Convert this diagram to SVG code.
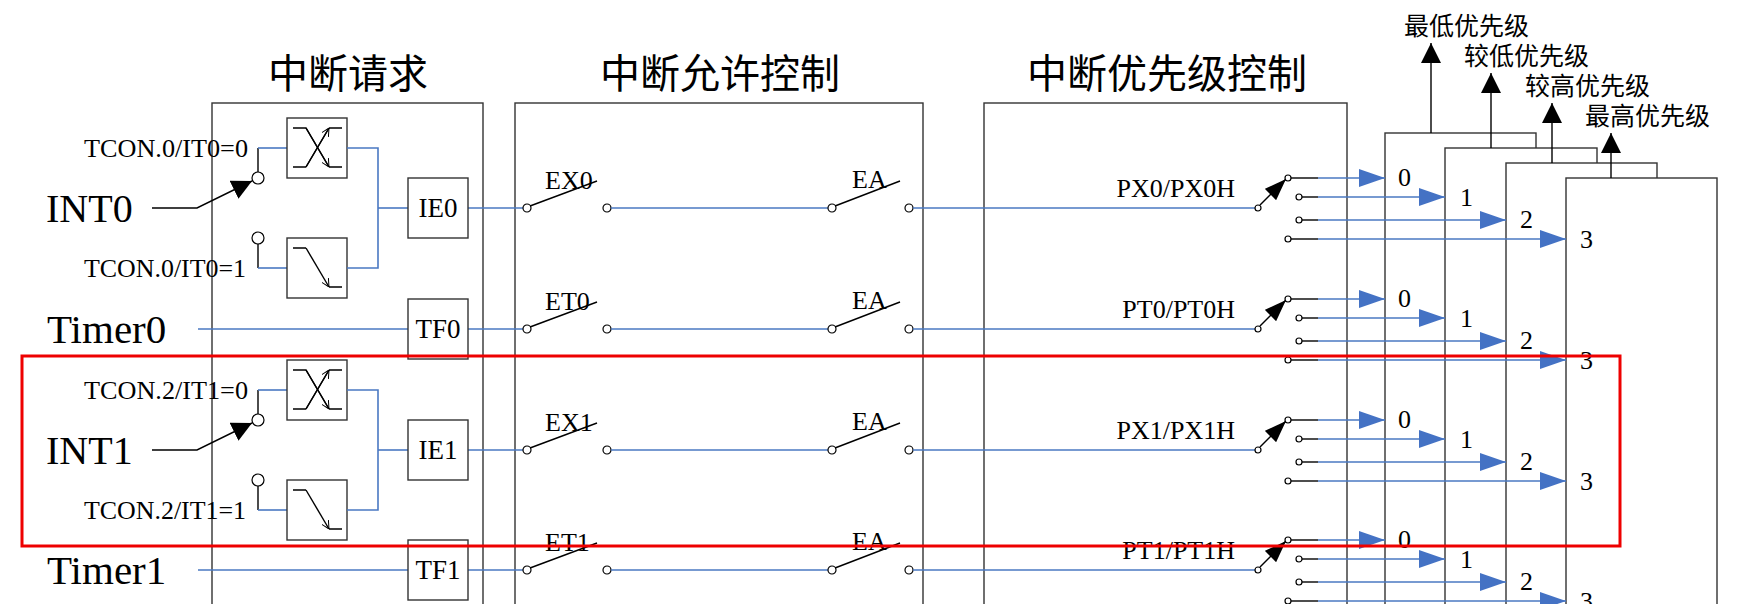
<svg xmlns="http://www.w3.org/2000/svg" xmlns:xlink="http://www.w3.org/1999/xlink" width="1756" height="604" viewBox="0 0 1756 604">
<style>
.t{font-family:"Liberation Serif","Times New Roman",serif;fill:#000}
.c{font-family:"Noto Sans CJK SC","Noto Sans CJK JP",sans-serif;fill:#000}
.k{stroke:#000;stroke-width:1.4;fill:none}
.bx{stroke:#333;stroke-width:1.4;fill:#fff}
.b{stroke:#4a78c2;stroke-width:1.6;fill:none}
.o{stroke:#000;stroke-width:1.2;fill:#fff}
</style>
<defs>
<marker id="ba" markerWidth="26" markerHeight="18" refX="26" refY="9" orient="auto" markerUnits="userSpaceOnUse"><path d="M0,0 L26,9 L0,18 Z" fill="#4472c4"/></marker>
<marker id="ka" markerWidth="22" markerHeight="16" refX="22" refY="8" orient="auto" markerUnits="userSpaceOnUse"><path d="M0,0 L22,8 L0,16 Z" fill="#000"/></marker>
<marker id="ua" markerWidth="20" markerHeight="20" refX="20" refY="10" orient="auto" markerUnits="userSpaceOnUse"><path d="M0,0 L20,10 L0,20 Z" fill="#000"/></marker>
<marker id="sa" markerWidth="8" markerHeight="8" refX="8" refY="4" orient="auto" markerUnits="userSpaceOnUse"><path d="M0,0 L8,4 L0,8" fill="none" stroke="#000" stroke-width="1"/></marker>
<g id="common">
<line class="b" x1="468" y1="0" x2="524" y2="0"/>
<circle class="o" cx="527" cy="0" r="4"/>
<line class="k" x1="530" y1="-2" x2="597" y2="-27"/>
<circle class="o" cx="607" cy="0" r="4"/>
<line class="b" x1="611" y1="0" x2="828" y2="0"/>
<circle class="o" cx="832" cy="0" r="4"/>
<line class="k" x1="835" y1="-2" x2="900" y2="-27"/>
<circle class="o" cx="909" cy="0" r="4"/>
<line class="b" x1="913" y1="0" x2="1255" y2="0"/>
<circle class="o" cx="1258" cy="0" r="3"/>
<line class="k" x1="1260" y1="-3" x2="1286" y2="-29" marker-end="url(#ka)"/>
<line class="k" x1="1291" y1="-30" x2="1318" y2="-30"/>
<line class="k" x1="1302" y1="-11" x2="1318" y2="-11"/>
<line class="k" x1="1302" y1="12" x2="1318" y2="12"/>
<line class="k" x1="1291" y1="31" x2="1318" y2="31"/>
<circle class="o" cx="1288" cy="-30" r="3"/>
<circle class="o" cx="1299" cy="-11" r="3"/>
<circle class="o" cx="1299" cy="12" r="3"/>
<circle class="o" cx="1288" cy="31" r="3"/>
</g>
<g id="arrs">
<line class="b" x1="1318" y1="-30" x2="1385" y2="-30" marker-end="url(#ba)"/>
<line class="b" x1="1318" y1="-11" x2="1445" y2="-11" marker-end="url(#ba)"/>
<line class="b" x1="1318" y1="12" x2="1506" y2="12" marker-end="url(#ba)"/>
<line class="b" x1="1318" y1="31" x2="1566" y2="31" marker-end="url(#ba)"/>
<text class="t" font-size="26" x="1398" y="-22">0</text>
<text class="t" font-size="26" x="1460" y="-2">1</text>
<text class="t" font-size="26" x="1520" y="20">2</text>
<text class="t" font-size="26" x="1580" y="40">3</text>
</g>
<g id="intblk">
<circle class="o" cx="258" cy="-30" r="6"/>
<polyline class="k" points="258,-36 258,-60"/>
<line class="b" x1="258" y1="-60" x2="287" y2="-60"/>
<circle class="o" cx="258" cy="30" r="6"/>
<polyline class="k" points="258,36 258,60"/>
<line class="b" x1="258" y1="60" x2="287" y2="60"/>
<rect class="bx" x="287" y="-90" width="60" height="60"/>
<path class="k" d="M293,-80 H306 L329,-41 M306,-41 H293 M306,-41 L329,-80 M329,-80 H342 M329,-41 H342" stroke-width="1.2"/>
<line class="k" x1="306" y1="-80" x2="329" y2="-41" stroke-width="1.2" marker-end="url(#sa)"/>
<line class="k" x1="306" y1="-41" x2="329" y2="-80" stroke-width="1.2" marker-end="url(#sa)"/>
<rect class="bx" x="287" y="30" width="60" height="60"/>
<path class="k" d="M293,40 H306 M329,79 H342" stroke-width="1.2"/>
<line class="k" x1="306" y1="40" x2="329" y2="79" stroke-width="1.2" marker-end="url(#sa)"/>
<polyline class="b" points="347,-60 378,-60 378,60 347,60"/>
<line class="b" x1="378" y1="0" x2="408" y2="0"/>
<rect class="bx" x="408" y="-30" width="60" height="60"/>
<polyline class="k" points="152,0 197,0 252,-27" marker-end="url(#ua)"/>
</g>
</defs>
<rect width="1756" height="604" fill="#fff"/>
<g id="frames">
<rect class="bx" x="212" y="103" width="271" height="520" fill="none"/>
<rect class="bx" x="515" y="103" width="408" height="520" fill="none"/>
<rect class="bx" x="984" y="103" width="363" height="520" fill="none"/>
<text class="c" font-size="40" x="348" y="88" text-anchor="middle">中断请求</text>
<text class="c" font-size="40" x="720" y="88" text-anchor="middle">中断允许控制</text>
<text class="c" font-size="40" x="1167" y="88" text-anchor="middle">中断优先级控制</text>
</g>
<g id="prio">
<rect class="bx" x="1385" y="133" width="151" height="500"/>
<rect class="bx" x="1445" y="148" width="152" height="500"/>
<rect class="bx" x="1506" y="163" width="151" height="500"/>
<rect class="bx" x="1566" y="178" width="151" height="500"/>
<line class="k" x1="1431" y1="133" x2="1431" y2="43" marker-end="url(#ua)"/>
<line class="k" x1="1491" y1="148" x2="1491" y2="73" marker-end="url(#ua)"/>
<line class="k" x1="1552" y1="163" x2="1552" y2="103" marker-end="url(#ua)"/>
<line class="k" x1="1611" y1="178" x2="1611" y2="133" marker-end="url(#ua)"/>
<text class="c" font-size="25" x="1404" y="35">最低优先级</text>
<text class="c" font-size="25" x="1464" y="65">较低优先级</text>
<text class="c" font-size="25" x="1525" y="95">较高优先级</text>
<text class="c" font-size="25" x="1585" y="125">最高优先级</text>
</g>
<g id="connectors">
<use xlink:href="#common" href="#common" y="208"/>
<use xlink:href="#common" href="#common" y="329"/>
<use xlink:href="#common" href="#common" y="450"/>
<use xlink:href="#common" href="#common" y="570"/>
<use xlink:href="#arrs" href="#arrs" y="208"/>
<use xlink:href="#arrs" href="#arrs" y="329"/>
<use xlink:href="#arrs" href="#arrs" y="450"/>
<use xlink:href="#arrs" href="#arrs" y="570"/>
</g>
<g id="int0">
<use xlink:href="#intblk" href="#intblk" y="208"/>
<text class="t" font-size="40" x="46" y="222">INT0</text>
<text class="t" font-size="26" x="84" y="157" textLength="164" lengthAdjust="spacingAndGlyphs">TCON.0/IT0=0</text>
<text class="t" font-size="26" x="84" y="277" textLength="162" lengthAdjust="spacingAndGlyphs">TCON.0/IT0=1</text>
<text class="t" font-size="27" x="438" y="217" text-anchor="middle">IE0</text>
<text class="t" font-size="26" x="545" y="189">EX0</text>
<text class="t" font-size="26" x="852" y="188">EA</text>
<text class="t" font-size="26" x="1235" y="197" text-anchor="end">PX0/PX0H</text>
</g>
<g id="timer0">
<line class="b" x1="198" y1="329" x2="408" y2="329"/>
<rect class="bx" x="408" y="299" width="60" height="60"/>
<text class="t" font-size="41" x="47" y="343">Timer0</text>
<text class="t" font-size="27" x="438" y="338" text-anchor="middle">TF0</text>
<text class="t" font-size="26" x="545" y="310">ET0</text>
<text class="t" font-size="26" x="852" y="309">EA</text>
<text class="t" font-size="26" x="1235" y="318" text-anchor="end">PT0/PT0H</text>
</g>
<g id="int1">
<use xlink:href="#intblk" href="#intblk" y="450"/>
<text class="t" font-size="40" x="46" y="464">INT1</text>
<text class="t" font-size="26" x="84" y="399" textLength="164" lengthAdjust="spacingAndGlyphs">TCON.2/IT1=0</text>
<text class="t" font-size="26" x="84" y="519" textLength="162" lengthAdjust="spacingAndGlyphs">TCON.2/IT1=1</text>
<text class="t" font-size="27" x="438" y="459" text-anchor="middle">IE1</text>
<text class="t" font-size="26" x="545" y="431">EX1</text>
<text class="t" font-size="26" x="852" y="430">EA</text>
<text class="t" font-size="26" x="1235" y="439" text-anchor="end">PX1/PX1H</text>
</g>
<g id="timer1">
<line class="b" x1="198" y1="570" x2="408" y2="570"/>
<rect class="bx" x="408" y="540" width="60" height="60"/>
<text class="t" font-size="41" x="47" y="584">Timer1</text>
<text class="t" font-size="27" x="438" y="579" text-anchor="middle">TF1</text>
<text class="t" font-size="26" x="545" y="551">ET1</text>
<text class="t" font-size="26" x="852" y="550">EA</text>
<text class="t" font-size="26" x="1235" y="559" text-anchor="end">PT1/PT1H</text>
</g>
<rect id="highlight" x="22" y="356" width="1598" height="190" fill="none" stroke="#e00" stroke-width="3"/>
</svg>
